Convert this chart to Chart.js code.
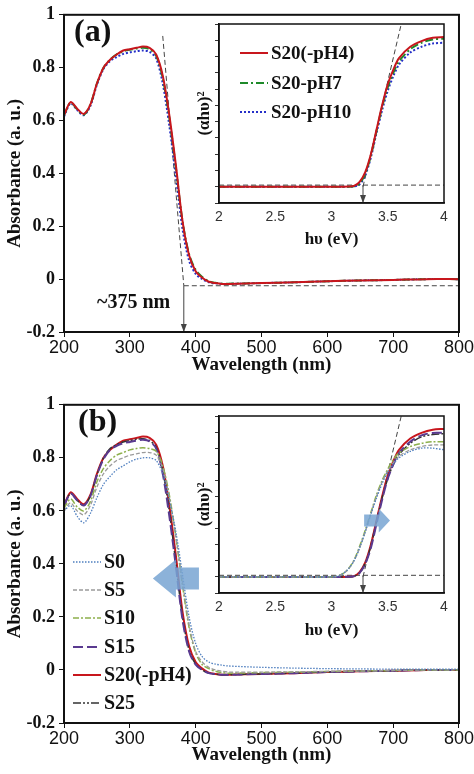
<!DOCTYPE html>
<html><head><meta charset="utf-8">
<script src="https://cdn.jsdelivr.net/npm/chart.js@4"></script>
<style>
body{margin:0;background:#fff;width:474px;height:774px;position:relative;overflow:hidden;font-family:"Liberation Serif",serif}
canvas{position:absolute}
.lab{position:absolute;font-weight:bold;white-space:nowrap;color:#111}
.leg{position:absolute;font-weight:bold;white-space:nowrap;color:#111;display:flex;align-items:center}
.leg svg{margin-right:3px}
</style></head><body>
<canvas id="ma" style="left:0;top:0" width="474" height="380"></canvas>
<canvas id="ia" style="top:14px;left:190px" width="270" height="240"></canvas>
<canvas id="mb" style="left:0;top:390px" width="474" height="380"></canvas>
<canvas id="ib" style="left:190px;top:405px" width="270" height="240"></canvas>
<div class="lab" style="left:74px;top:12px;font-size:32px">(a)</div>
<div class="lab" style="left:78px;top:402px;font-size:32px">(b)</div>
<div class="lab" style="left:97px;top:290px;font-size:20px">~375 nm</div>
<div id="lega"></div><div id="legb"></div>
<script>
// ---- data ----
const wl = [200,210,220,230,240,250,260,270,280,290,300,310,320,330,340,350,360,370,380,390,400,410,420,430,440,450,500,550,600,650,700,750,800];
const aPH4  = [0.62,0.67,0.645,0.625,0.66,0.74,0.80,0.83,0.85,0.865,0.87,0.875,0.88,0.875,0.85,0.77,0.62,0.43,0.22,0.09,0.03,0.005,-0.01,-0.015,-0.018,-0.018,-0.015,-0.012,-0.008,-0.005,-0.003,0,0];
const aPH7  = [0.62,0.668,0.643,0.622,0.66,0.74,0.80,0.83,0.85,0.862,0.868,0.872,0.875,0.87,0.845,0.76,0.61,0.42,0.22,0.095,0.035,0.008,-0.008,-0.014,-0.017,-0.017,-0.015,-0.012,-0.008,-0.005,-0.003,0,0];
const aPH10 = [0.615,0.665,0.64,0.62,0.655,0.735,0.795,0.825,0.84,0.852,0.858,0.862,0.865,0.86,0.835,0.74,0.58,0.39,0.19,0.07,0.02,0.0,-0.012,-0.016,-0.018,-0.018,-0.015,-0.012,-0.008,-0.005,-0.003,0,0];
const bS0  = [0.60,0.62,0.58,0.555,0.59,0.65,0.70,0.73,0.755,0.77,0.785,0.795,0.80,0.80,0.79,0.74,0.64,0.52,0.36,0.20,0.10,0.05,0.03,0.022,0.018,0.015,0.01,0.007,0.005,0.004,0.003,0.003,0.003];
const bS5  = [0.60,0.63,0.60,0.585,0.62,0.69,0.74,0.77,0.79,0.80,0.81,0.815,0.82,0.82,0.81,0.76,0.65,0.50,0.33,0.17,0.07,0.03,0.01,0.0,-0.005,-0.008,-0.008,-0.007,-0.005,-0.004,-0.002,0,0];
const bS10 = [0.61,0.645,0.615,0.60,0.635,0.71,0.76,0.79,0.81,0.82,0.83,0.835,0.838,0.835,0.825,0.77,0.66,0.50,0.32,0.16,0.065,0.02,0.005,-0.005,-0.01,-0.012,-0.01,-0.008,-0.006,-0.004,-0.002,0,0];
const bS15 = [0.62,0.665,0.64,0.62,0.655,0.735,0.795,0.83,0.845,0.855,0.86,0.865,0.868,0.862,0.835,0.74,0.58,0.39,0.19,0.07,0.02,0.0,-0.012,-0.016,-0.018,-0.018,-0.015,-0.012,-0.008,-0.005,-0.003,0,0];
const bS20 = aPH4;
const bS25 = [0.62,0.665,0.64,0.62,0.655,0.735,0.80,0.835,0.85,0.86,0.865,0.87,0.872,0.865,0.84,0.75,0.60,0.40,0.20,0.075,0.022,0.0,-0.012,-0.016,-0.018,-0.018,-0.015,-0.012,-0.008,-0.005,-0.003,0,0];

const ev = [2,2.5,3,3.05,3.1,3.15,3.2,3.25,3.3,3.35,3.4,3.45,3.5,3.55,3.6,3.7,3.8,3.9,4];
const iPH4  = [1,1,1,1,1,1.01,1.05,1.3,1.9,3.0,4.5,6.0,7.3,8.2,8.9,9.6,9.95,10.15,10.2];
const iPH7  = [1,1,1,1,1,1.0,1.03,1.2,1.8,2.9,4.4,5.9,7.1,8.0,8.7,9.45,9.85,10.05,10.1];
const iPH10 = [1,1,1,1,1,1.0,1.02,1.15,1.7,2.8,4.3,5.7,6.9,7.8,8.5,9.25,9.6,9.8,9.85];
const iS0   = [1,1,1,1.05,1.2,1.5,2.0,2.8,3.8,4.9,5.9,6.8,7.5,8.0,8.4,8.8,9.0,9.0,8.9];
const iS5   = [1,1,1,1.04,1.18,1.48,2.0,2.8,3.8,4.9,6.0,6.9,7.6,8.1,8.5,8.9,9.1,9.2,9.2];
const iS10  = [1,1,1,1.04,1.2,1.5,2.05,2.9,3.9,5.0,6.1,7.0,7.7,8.3,8.7,9.1,9.3,9.4,9.4];
const iS15  = [1,1,1,1,1,1.01,1.04,1.25,1.8,2.8,4.3,5.8,7.1,8.0,8.7,9.4,9.8,9.95,9.95];
const iS20  = iPH4;
const iS25  = [1,1,1,1,1,1.01,1.04,1.25,1.85,2.9,4.4,5.9,7.1,8.0,8.6,9.3,9.7,9.85,9.9];

const xTicksMain = [200,300,400,500,600,700,800];
const yTicksMain = [-0.2,0,0.2,0.4,0.6,0.8,1];
const xTicksIns = [2,2.5,3,3.5,4];

// ---- styles ----
const st = {
  pH4:  {label:'S20(-pH4)', c:'#c8161d', d:[], w:2},
  pH7:  {label:'S20-pH7', c:'#1e8a2a', d:[8,3,2,3], w:2},
  pH10: {label:'S20-pH10', c:'#2630c8', d:[2,2], w:2},
  S0:  {label:'S0', c:'#4f7fbf', d:[1.5,1.5], w:1.3},
  S5:  {label:'S5', c:'#9a9a9a', d:[4,2], w:1.3},
  S10: {label:'S10', c:'#8db04c', d:[6,2,2,2], w:1.5},
  S15: {label:'S15', c:'#5a3a90', d:[10,4], w:2},
  S20: {label:'S20(-pH4)', c:'#c8161d', d:[], w:2},
  S25: {label:'S25', c:'#333333', d:[8,2,2,2,2,2], w:1.5},
};
const pts = (xs, ys) => xs.map((x,i)=>({x, y:ys[i]}));
const ds = (k, xs, ys) => ({data:pts(xs,ys), borderColor:st[k].c, borderDash:st[k].d, borderWidth:st[k].w, pointRadius:0, tension:0.3, fill:false});
const dl = (data, dash, w) => ({data, borderColor:'#444', borderDash:dash, borderWidth:w||1, pointRadius:0, tension:0, fill:false});

const frame = {id:'frame', afterDraw(ch){const a=ch.chartArea,c=ch.ctx;c.save();c.strokeStyle='#111';c.lineWidth=ch.options.frameW||2;c.strokeRect(a.left,a.top,a.right-a.left,a.bottom-a.top);c.restore();}};
const bgFill = {id:'bgFill', beforeDraw(ch){const a=ch.chartArea,c=ch.ctx;c.save();c.fillStyle='#fff';c.fillRect(a.left,a.top,a.right-a.left,a.bottom-a.top);c.restore();}};
// arrows placed in data coords
function arrowPlugin(list){return {id:'arrows', afterDatasetsDraw(ch){const c=ch.ctx,X=ch.scales.x,Y=ch.scales.y;c.save();
  list.forEach(a=>{
    if(a.type==='line'){const x=X.getPixelForValue(a.x),y1=Y.getPixelForValue(a.y1),y2=Y.getPixelForValue(a.y2);
      c.strokeStyle='#444';c.lineWidth=1;c.setLineDash([]);c.beginPath();c.moveTo(x,y1);c.lineTo(x,y2);c.stroke();
      c.fillStyle='#444';c.beginPath();c.moveTo(x,y2);c.lineTo(x-3,y2-8);c.lineTo(x+3,y2-8);c.closePath();c.fill();}
    else{const x0=X.getPixelForValue(a.x0),x1=X.getPixelForValue(a.x1),xm=X.getPixelForValue(a.xm);
      const yc=Y.getPixelForValue(a.yc),hb=a.hb,hh=a.hh;
      c.fillStyle='rgba(120,165,210,0.85)';c.beginPath();
      c.moveTo(x0,yc-hb);c.lineTo(xm,yc-hb);c.lineTo(xm,yc-hh);c.lineTo(x1,yc);c.lineTo(xm,yc+hh);c.lineTo(xm,yc+hb);c.lineTo(x0,yc+hb);c.closePath();c.fill();}
  });c.restore();}};}

function mainChart(id, datasets, padTop, xH, arrows){
  return new Chart(document.getElementById(id), {
    type:'line', data:{datasets},
    options:{responsive:false, animation:false, frameW:2,
      layout:{padding:{top:padTop,right:15,left:0,bottom:0}},
      plugins:{legend:{display:false},tooltip:{enabled:false}},
      scales:{
        x:{type:'linear',min:200,max:800,afterFit(s){s.height=xH;},
          afterBuildTicks(s){s.ticks=xTicksMain.map(v=>({value:v}));},
          grid:{drawOnChartArea:false,tickLength:5,color:'#111'},border:{color:'#111',width:2},
          ticks:{color:'#111',font:{family:'Liberation Sans',size:18},padding:0},
          title:{display:true,text:'Wavelength (nm)',color:'#111',font:{family:'Liberation Serif',size:19,weight:'bold'},padding:{top:-6}}},
        y:{min:-0.2,max:1,afterFit(s){s.width=64;},
          afterBuildTicks(s){s.ticks=yTicksMain.map(v=>({value:v}));},
          grid:{drawOnChartArea:false,tickLength:5,color:'#111'},border:{color:'#111',width:2},
          ticks:{color:'#111',font:{family:'Liberation Serif',size:18,weight:'bold'},padding:4,callback:v=>String(Math.round(v*10)/10)},
          title:{display:true,text:'Absorbance (a. u.)',color:'#111',font:{family:'Liberation Serif',size:19,weight:'bold'},padding:{bottom:0}}}
      }},
    plugins:[frame, arrowPlugin(arrows)]
  });
}
function insetChart(id, datasets, padTop, xH, arrows){
  return new Chart(document.getElementById(id), {
    type:'line', data:{datasets},
    options:{responsive:false, animation:false, frameW:1.5,
      layout:{padding:{top:padTop,right:16,left:0,bottom:0}},
      plugins:{legend:{display:false},tooltip:{enabled:false}},
      scales:{
        x:{type:'linear',min:2,max:4,afterFit(s){s.height=xH;},
          afterBuildTicks(s){s.ticks=xTicksIns.map(v=>({value:v}));},
          grid:{drawOnChartArea:false,tickLength:0},border:{color:'#111',width:1.5},
          ticks:{color:'#333',font:{family:'Liberation Sans',size:14},padding:6,callback:v=>String(v)},
          title:{display:true,text:'hυ (eV)',color:'#111',font:{family:'Liberation Serif',size:17,weight:'bold'},padding:{top:0}}},
        y:{min:0,max:11,afterFit(s){s.width=29;},
          afterBuildTicks(s){s.ticks=[0,1,2,3,4,5,6,7,8,9,10,11].map(v=>({value:v}));},
          grid:{drawOnChartArea:false,tickLength:4,color:'#333'},border:{color:'#111',width:1.5},
          ticks:{display:false},
          title:{display:true,text:'(αhυ)²',color:'#111',font:{family:'Liberation Serif',size:17,weight:'bold'},padding:{bottom:4}}}
      }},
    plugins:[bgFill, frame, arrowPlugin(arrows)]
  });
}

mainChart('ma', [
  ds('pH4',wl,aPH4), ds('pH7',wl,aPH7), ds('pH10',wl,aPH10),
  dl([{x:350,y:0.92},{x:382,y:-0.025}],[5,3]),
  dl([{x:382,y:-0.025},{x:800,y:-0.025}],[5,3])
], 10, 48, [{type:'line',x:382,y1:-0.025,y2:-0.2}]);

insetChart('ia', [
  ds('pH4',ev,iPH4), ds('pH7',ev,iPH7), ds('pH10',ev,iPH10),
  dl([{x:2,y:1.1},{x:4,y:1.1}],[5,3]),
  dl([{x:3.28,y:1.0},{x:3.62,y:11}],[5,3])
], 10, 51, [{type:'line',x:3.28,y1:1.1,y2:0}]);

mainChart('mb', [
  ds('S0',wl,bS0), ds('S5',wl,bS5), ds('S10',wl,bS10), ds('S15',wl,bS15), ds('S25',wl,bS25), ds('S20',wl,bS20)
], 11, 47, [{type:'big',x0:405,xm:370,x1:335,yc:0.345,hb:11,hh:19}]);

insetChart('ib', [
  ds('S0',ev,iS0), ds('S5',ev,iS5), ds('S10',ev,iS10), ds('S15',ev,iS15), ds('S25',ev,iS25), ds('S20',ev,iS20),
  dl([{x:2,y:1.1},{x:4,y:1.1}],[5,3]),
  dl([{x:3.28,y:1.0},{x:3.62,y:11}],[5,3])
], 11, 52, [{type:'big',x0:3.29,xm:3.42,x1:3.52,yc:4.5,hb:6,hh:12},{type:'line',x:3.28,y1:1.1,y2:0}]);

// ---- legends (HTML text) ----
function legend(elId, keys, left, tops, size){
  const el=document.getElementById(elId);
  keys.forEach((k,i)=>{
    const s=st[k]; const d=document.createElement('div'); d.className='leg';
    d.style.left=left+'px'; d.style.top=(tops[i]-size*0.6)+'px'; d.style.fontSize=size+'px';
    d.innerHTML='<svg width="28" height="6"><line x1="0" y1="3" x2="28" y2="3" stroke="'+s.c+'" stroke-width="'+s.w+'" stroke-dasharray="'+(s.d.join(',')||'none')+'"/></svg>'+s.label;
    el.appendChild(d);
  });
}
legend('lega',['pH4','pH7','pH10'],240,[53,83,112],19);
legend('legb',['S0','S5','S10','S15','S20','S25'],73,[562,590,618,647,675,703],20);
</script>
</body></html>
